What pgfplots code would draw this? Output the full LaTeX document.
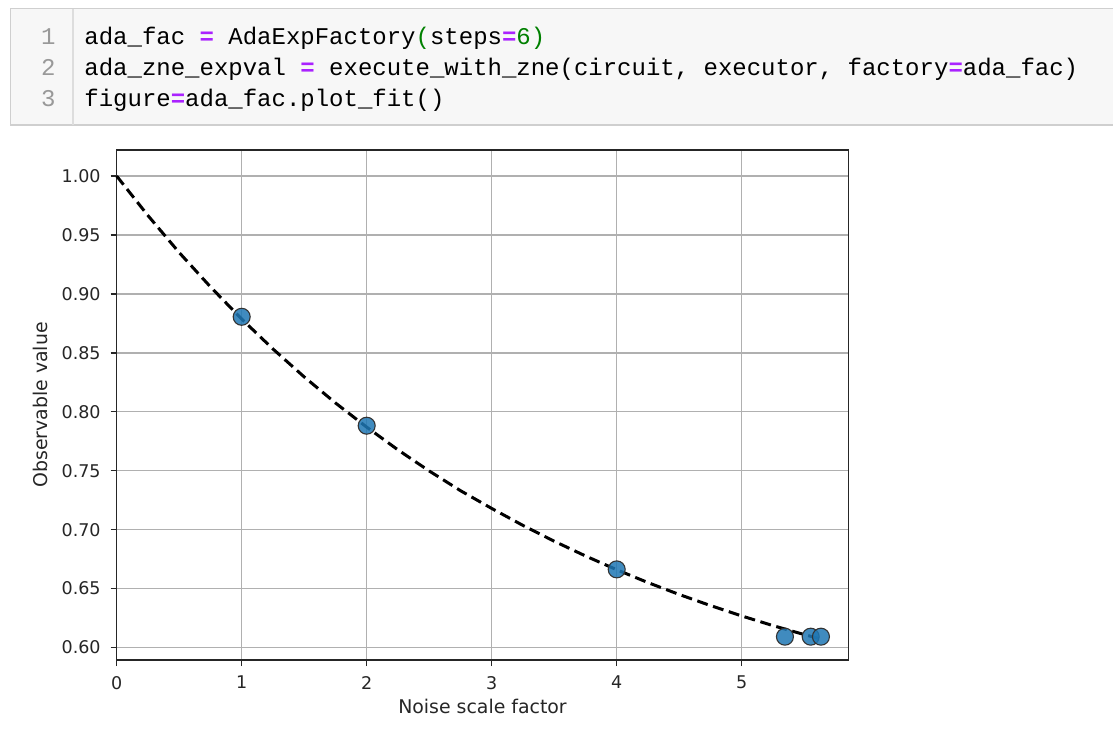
\documentclass[border=0pt]{standalone}
\usepackage{pgfplots}
\pgfplotsset{compat=1.18}
\usepackage{fontspec}
\setmainfont{DejaVu Sans}
\newfontfamily\codefont{Liberation Mono}
\definecolor{codebg}{HTML}{F7F7F7}
\definecolor{codeborder}{HTML}{CFCFCF}
\definecolor{gutter}{HTML}{DDDDDD}
\definecolor{purp}{HTML}{AA22FF}
\definecolor{numgreen}{HTML}{008000}
\definecolor{lineno}{HTML}{999999}
\definecolor{mplblue}{HTML}{1F77B4}
\definecolor{gridgray}{HTML}{B0B0B0}
\definecolor{labelgray}{HTML}{262626}
\newcommand{\eq}{{\color{purp}\bfseries =}}
\begin{document}
\begin{tikzpicture}[x=0.5pt,y=-0.5pt]
\useasboundingbox (0,0) rectangle (1113,741);
\fill[white] (0,0) rectangle (1113,741);
% code cell
\draw[codeborder, fill=codebg, line width=0.6pt] (10.5,8.5) rectangle (1125,125);
\draw[gutter, line width=0.6pt] (73,9) -- (73,124.5);
\begin{scope}[every node/.style={inner sep=0pt, font=\codefont\fontsize{12}{14}\selectfont}]
\node[anchor=base east, text=lineno] at (56,44) {1};
\node[anchor=base east, text=lineno] at (56,75) {2};
\node[anchor=base east, text=lineno] at (56,106) {3};
\node[anchor=base west] at (84,44) {ada\_fac \eq{} AdaExpFactory{\color{numgreen}(}steps\eq{\color{numgreen}6)}};
\node[anchor=base west] at (84,75) {ada\_zne\_expval \eq{} execute\_with\_zne(circuit, executor, factory\eq{}ada\_fac)};
\node[anchor=base west] at (84,106) {figure\eq{}ada\_fac.plot\_fit()};
\end{scope}
\begin{axis}[
  at={(58.35pt,-330pt)}, anchor=south west,
  width=365.8pt, height=255pt, scale only axis,
  xmin=0, xmax=5.853, ymin=0.5894, ymax=1.0221,
  xtick={0,1,2,3,4,5},
  ytick={0.60,0.65,0.70,0.75,0.80,0.85,0.90,0.95,1.00},
  yticklabel style={xshift=-1.5pt, /pgf/number format/fixed, /pgf/number format/fixed zerofill, /pgf/number format/precision=2},
  /pgf/number format/assume math mode=true,
  ticklabel style={font=\fontsize{8.75}{10}\selectfont, text=labelgray},
  xticklabel style={yshift=-1.5pt},
  tick align=outside, major tick length=3pt,
  tick style={black!85, line width=0.7pt},
  xtick pos=bottom, ytick pos=left,
  axis line style={black!85, line width=0.7pt},
  grid=major, major grid style={gridgray, line width=0.7pt},
  xlabel={Noise scale factor}, ylabel={Observable value},
  label style={font=\fontsize{9.45}{11}\selectfont, text=labelgray},
  xlabel style={at={(axis description cs:0.5,-0.092)}, anchor=center},
  ylabel style={at={(axis description cs:-0.1045,0.5)}, anchor=center, rotate=0},
  clip=false,
]
\addplot[only marks, mark=*, mark size=4.25pt,
  mark options={fill=mplblue, fill opacity=0.85, draw=black!80, line width=0.55pt}]
  coordinates {(1,0.8806) (2,0.7882) (4,0.6663) (5.346,0.6092) (5.552,0.6092) (5.634,0.6092)};
\addplot[black, line width=1.5pt, dash pattern=on 5.5pt off 2.8pt] coordinates {
(0,1.0000) (0.25,0.9665) (0.5,0.9351) (0.75,0.9060) (1,0.8787) (1.25,0.8533)
(1.5,0.8296) (1.75,0.8075) (2,0.7870) (2.25,0.7677) (2.5,0.7498) (2.75,0.7331)
(3,0.7180) (3.25,0.7036) (3.5,0.6902) (3.75,0.6777) (4,0.6660) (4.25,0.6551)
(4.5,0.6450) (4.75,0.6356) (5,0.6268) (5.25,0.6186) (5.5,0.6110) (5.634,0.6072)};
\end{axis}
\end{tikzpicture}
\end{document}
